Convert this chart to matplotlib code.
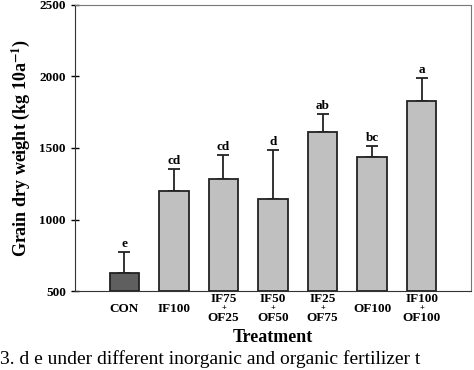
import matplotlib
matplotlib.use("Agg")
import matplotlib.pyplot as plt
import numpy as np

treatments = ["CON", "IF100", "IF75\nOF25", "IF50\nOF50", "IF25\nOF75", "OF100", "IF100\nOF100"]
grain_weight = [624, 1199, 1283, 1141, 1612, 1439, 1826]
err_upper = [151, 154, 168, 347, 126, 77, 166]
letters = ["e", "cd", "cd", "d", "ab", "bc", "a"]
bar_colors = ["#5f5f5f"] + ["#c0c0c0"] * 6

plt.rcParams["font.family"] = ["Liberation Serif", "DejaVu Serif"]
plt.rcParams["font.weight"] = "bold"
plt.rcParams["mathtext.fontset"] = "stix"

fig = plt.figure(figsize=(4.74, 3.70), dpi=100)
ax = fig.add_axes([0.158, 0.2135, 0.836, 0.773])

x = np.arange(len(treatments))
ax.bar(x, np.array(grain_weight) - 500, bottom=500, width=0.59, color=bar_colors,
       edgecolor="#222222", linewidth=1.3, zorder=2)
ax.errorbar(x, grain_weight, yerr=[np.zeros(len(x)), err_upper], fmt="none",
            ecolor="#222222", elinewidth=1.3, capsize=4, capthick=1.3, zorder=1)
for xi, v, e, t in zip(x, grain_weight, err_upper, letters):
    ax.text(xi, v + e + 12, t, ha="center", va="bottom", fontsize=9.5, fontweight="bold")

ax.set_xlim(-1, 7)
ax.set_ylim(500, 2500)
ax.set_yticks([500, 1000, 1500, 2000, 2500])
ax.set_xticks(x)
ax.set_xticklabels([])
ax.tick_params(axis="x", length=0)
ax.tick_params(axis="y", direction="inout", length=6, labelsize=9.5, width=1)
for lbl in ax.get_yticklabels():
    lbl.set_fontweight("bold")
for s in ["top", "right"]:
    ax.spines[s].set_color("#777777")
for s in ["left", "bottom"]:
    ax.spines[s].set_color("#333333")

# treatment labels: mixed ones are stacked with a small "+" in between
def label(xi, s, dy, size):
    ax.annotate(s, (xi, 0), xycoords=("data", "axes fraction"),
                xytext=(0, dy), textcoords="offset points",
                ha="center", va="center", fontsize=size, fontweight="bold")

for xi, name in zip(x, treatments):
    parts = name.split("\n")
    if len(parts) == 1:
        label(xi, parts[0], -13, 9.5)
    else:
        label(xi, parts[0], -5.5, 9.5)
        label(xi, "+", -12.3, 6)
        label(xi, parts[1], -19.5, 9.5)

ax.set_ylabel(r"Grain dry weight (kg 10a$^{\mathbf{-1}}$)", fontsize=13, fontweight="bold", labelpad=5)
fig.text(((75 + 471) / 2) / 474, (370 - 338) / 370, "Treatment", ha="center", va="center",
         fontsize=13, fontweight="bold")

fig.text(0.0, (370 - 359) / 370, "3. d e under different inorganic and organic fertilizer t",
         fontsize=14, fontweight="normal", va="center", ha="left")

fig.savefig("out.png", dpi=100)
